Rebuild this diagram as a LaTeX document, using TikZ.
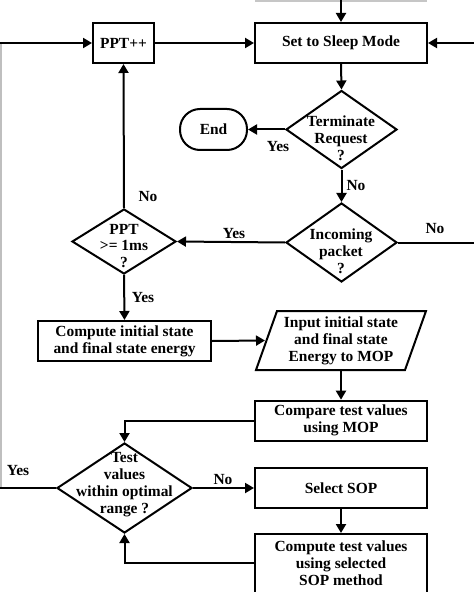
\documentclass[tikz,border=0pt]{standalone}
\usepackage{fontspec}
\setmainfont{Liberation Serif}
\usetikzlibrary{arrows.meta,shapes.geometric}
\begin{document}
\begin{tikzpicture}[x=1bp,y=-1bp, line width=2bp, >={Triangle[length=9bp,width=10bp]},
 every node/.style={font=\bfseries\fontsize{15.5}{17}\selectfont},
 box/.style={draw, rectangle, inner sep=0, minimum width=172bp, minimum height=40bp, align=center},
 dia/.style={draw, diamond, inner sep=0},
 txt/.style={align=center, inner sep=0},
 lbl/.style={inner sep=0}]
\useasboundingbox (0,0) rectangle (474,592);
\clip (0,0) rectangle (474,592);
\fill[gray!45] (255,0) rectangle (427,2);
\coordinate (topin) at (341,0);
\coordinate (L1) at (0,43);
\coordinate (R1) at (474,43);
\coordinate (R2) at (474,242.5);
\coordinate (L2) at (0,488);
\coordinate (g1) at (1.3,42);
\coordinate (g2) at (1.3,489);
\draw[gray!50] (g1) -- (g2);
% nodes
\node[box] (sleep) at (341,43) {Set to Sleep Mode};
\node[box, minimum width=61bp] (ppp) at (123.5,43) {PPT++};
\node[dia, minimum width=111bp, minimum height=78bp] (term) at (341.5,129.5) {};
\node[txt] (termt) at (341,138) {Terminate\\Request\\?};
\node[draw, rounded corners=20bp, minimum width=67bp, minimum height=41bp, inner sep=0] (end) at (213.5,129.5) {End};
\node[dia, minimum width=111bp, minimum height=79bp] (inc) at (341.5,242.5) {};
\node[txt] (inct) at (341,251) {Incoming\\packet\\?};
\node[dia, minimum width=104bp, minimum height=65bp] (ppt) at (124,241.5) {};
\node[txt] (pptt) at (124,246) {PPT\\>= 1ms\\?};
\node[box, minimum width=173bp] (cis) at (124.5,341) {Compute initial state\\and final state energy};
\draw (277,311) -- (426,311) -- (405,370) -- (256,370) -- cycle;
\node[txt, minimum width=150bp, minimum height=59bp] (inp) at (341,340.5) {Input initial state\\and final state\\Energy to MOP};
\node[box] (cmp) at (341,420.7) {Compare test values\\using MOP};
\node[dia, minimum width=135bp, minimum height=90bp] (test) at (124.5,488) {};
\node[txt] (testt) at (124.5,485) {Test\\values\\within optimal\\range ?};
\node[box] (sel) at (341,488) {Select SOP};
\node[box, minimum height=66bp] (cts) at (341,567) {};
\node[txt] (ctst) at (341,563) {Compute test values\\using selected\\SOP method};
% connectors
\draw[->] (topin) -- (sleep.north);
\draw[->] (L1) -- (ppp.west);
\draw[->] (ppp.east) -- (sleep.west);
\draw[->] (R1) -- (sleep.east);
\draw[->] (sleep.south) -- (term.north);
\draw[->] (term.west) -- (end.east);
\draw[->] (term.south) -- (inc.north);
\draw (inc.east) -- (R2);
\draw[->] (inc.west) -- (ppt.east);
\draw[->] (ppt.north) -- (ppp.south);
\draw[->] (ppt.south) -- (cis.north);
\draw[->] (cis.east) -- (inp.west);
\draw[->] (inp.south) -- (cmp.north);
\draw[->] (cmp.west) -| (test.north);
\draw (test.west) -- (L2);
\draw[->] (test.east) -- (sel.west);
\draw[->] (sel.south) -- (cts.north);
\draw[->] (ctst.center -| cts.west) -| (test.south);
% labels
\node[lbl] (y1) at (278,147) {Yes};
\node[lbl] (n1) at (356,186) {No};
\node[lbl] (n2) at (148,197) {No};
\node[lbl] (y2) at (234,234) {Yes};
\node[lbl] (n3) at (435,229) {No};
\node[lbl] (y3) at (143,298) {Yes};
\node[lbl] (y4) at (18,471) {Yes};
\node[lbl] (n4) at (223,480) {No};
\end{tikzpicture}
\end{document}
